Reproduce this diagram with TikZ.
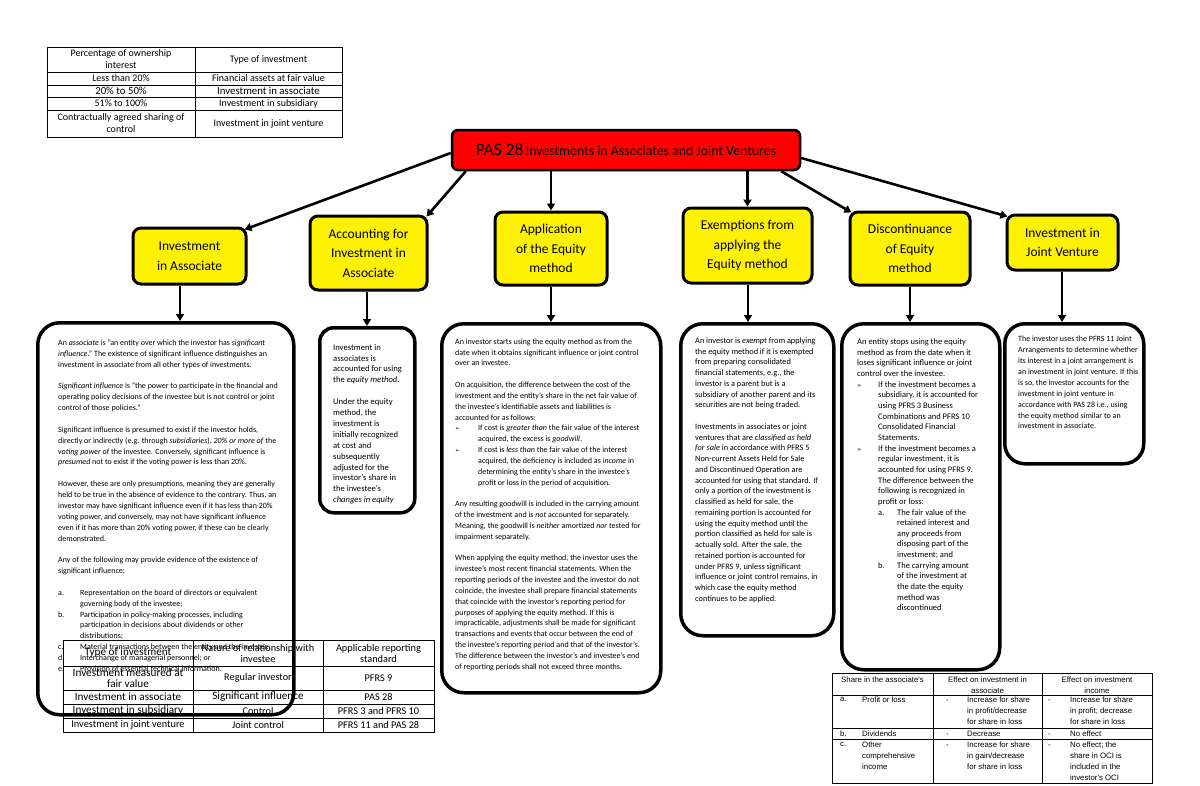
\documentclass[tikz,border=0pt]{standalone}
\usepackage{fontspec}
\setmainfont{Carlito}
\newfontfamily\djv{DejaVu Sans}
\newfontfamily\lib{Liberation Sans}
\usetikzlibrary{arrows.meta}
\newcommand{\bul}{\makebox[23pt][l]{\djv\fontsize{5.5}{5}\selectfont ➢}}
\newcommand{\dsh}{\vphantom{Ig}-}
\begin{document}
\begin{tikzpicture}[x=1pt,y=-1pt,
  arr/.style={line width=2.6pt,-{Triangle[length=7pt,width=8pt]}},
  ybox/.style={draw,line width=3pt,fill=yellow,rounded corners=8pt,align=center,font=\fontsize{13.5}{19.5}\selectfont,inner sep=0pt},
  tbox/.style={draw,line width=3.5pt,rounded corners=22pt,inner sep=0pt,anchor=north west},
  body/.style={anchor=north west,align=left,inner sep=0pt},
  grid/.style={line width=0.8pt},
  tcell/.style={inner sep=0pt,align=center,font=\fontsize{10}{12}\selectfont},
  bcell/.style={inner sep=0pt,align=center,font=\fontsize{10.3}{11}\selectfont},
  rcell/.style={inner sep=0pt,anchor=north west,align=left,font=\lib\fontsize{7.8}{10.9}\selectfont},
]
\useasboundingbox (0,0) rectangle (1200,785);
\fill[white] (0,0) rectangle (1200,785);

% ---------- top-left table ----------
\draw[grid] (47,47) rectangle (342,137);
\foreach \yy in {72,85,97,110} \draw[grid] (47,\yy) -- (342,\yy);
\draw[grid] (195,47) -- (195,137);
\node[tcell] (ta1) at (121,59.5) {Percentage of ownership\\interest};
\node[tcell] (ta2) at (268.5,59.5) {Type of investment};
\node[tcell] (tb1) at (121,78.5) {Less than 20\%};
\node[tcell] (tb2) at (268.5,78.5) {Financial assets at fair value};
\node[tcell,font=\fontsize{10.8}{12}\selectfont] (tc1) at (121,91) {20\% to 50\%};
\node[tcell,font=\fontsize{10.8}{12}\selectfont] (tc2) at (268.5,91) {Investment in associate};
\node[tcell] (td1) at (121,103.5) {51\% to 100\%};
\node[tcell] (td2) at (268.5,103.5) {Investment in subsidiary};
\node[tcell] (te1) at (121,123.5) {Contractually agreed sharing of\\control};
\node[tcell] (te2) at (268.5,123.5) {Investment in joint venture};

% ---------- title ----------
\node[draw,line width=2.5pt,fill=red,rounded corners=6pt,minimum width=348,minimum height=40,inner sep=0pt] (title) at (626,150)
  {{\fontsize{17.5}{20}\selectfont PAS 28} {\fontsize{13.8}{16}\selectfont Investments in Associates and Joint Ventures}};

% ---------- yellow boxes ----------
\node[ybox,minimum width=113,minimum height=56] (y1) at (189.5,256) {Investment\\in Associate};
\node[ybox,minimum width=117,minimum height=74] (y2) at (368.5,253) {Accounting for\\Investment in\\Associate};
\node[ybox,minimum width=112,minimum height=73] (y3) at (551,248.5) {Application\\of the Equity\\method};
\node[ybox,minimum width=129,minimum height=75] (y4) at (747.5,245.5) {Exemptions from\\applying the\\Equity method};
\node[ybox,minimum width=120,minimum height=73] (y5) at (910,248.5) {Discontinuance\\of Equity\\method};
\node[ybox,minimum width=111,minimum height=55] (y6) at (1062.5,242.5) {Investment in\\Joint Venture};

\draw[arr] ([yshift=-3pt]title.west) -- ([xshift=-3pt,yshift=-3pt]y1.north east);
\draw[arr] ([xshift=15pt]title.south west) -- ([xshift=-2pt,yshift=-2pt]y2.north east);
\draw[arr] (title.south -| y3.north) -- (y3.north);
\draw[arr] (title.south -| y4.north) -- (y4.north);
\draw[arr] ([xshift=-20pt]title.south east) -- ([xshift=3pt,yshift=-2pt]y5.north west);
\draw[arr] ([yshift=-8pt]title.east) -- ([xshift=2pt,yshift=-3pt]y6.north west);

% ---------- text boxes ----------
\node[tbox,minimum width=256,minimum height=392] (t1) at (36,321) {};
\node[tbox,rounded corners=14pt,minimum width=95,minimum height=185] (t2) at (318,326) {};
\node[tbox,minimum width=219,minimum height=369] (t3) at (440,322) {};
\node[tbox,minimum width=153,minimum height=312] (t4) at (679,322) {};
\node[tbox,minimum width=158,minimum height=346] (t5) at (840,322) {};
\node[tbox,rounded corners=20pt,minimum width=139,minimum height=140] (t6) at (1003,322) {};

\coordinate (a1) at (180,0);
\coordinate (a2) at (367,0);
\coordinate (a3) at (551,0);
\coordinate (a4) at (748,0);
\coordinate (a5) at (910,0);
\coordinate (a6) at (1062,0);
\draw[arr] (y1.south -| a1) -- (t1.north -| a1);
\draw[arr] (y2.south -| a2) -- (t2.north -| a2);
\draw[arr] (y3.south -| a3) -- (t3.north -| a3);
\draw[arr] (y4.south -| a4) -- (t4.north -| a4);
\draw[arr] (y5.south -| a5) -- (t5.north -| a5);
\draw[arr] (y6.south -| a6) -- (t6.north -| a6);

% TB1
\node[body,font=\fontsize{8}{10.87}\selectfont] (b1) at (58,339.5) {%
An \textit{associate} is "an entity over which the investor has \textit{significant}\\
\textit{influence}." The existence of significant influence distinguishes an\\
investment in associate from all other types of investments.\\[10.87pt]
\textit{Significant influence} is "the power to participate in the financial and\\
operating policy decisions of the investee but is not control or joint\\
control of those policies."\\[10.87pt]
Significant influence is presumed to exist if the investor holds,\\
directly or indirectly (e.g. through \textit{subsidiaries}), \textit{20\% or more of} the\\
\textit{voting power} of the investee. Conversely, significant influence is\\
\textit{presumed} not to exist if the voting power is less than 20\%.\\[10.87pt]
However, these are only presumptions, meaning they are generally\\
held to be true in the absence of evidence to the contrary. Thus, an\\
investor may have significant influence even if it has less than 20\%\\
voting power, and conversely, may not have significant influence\\
even if it has more than 20\% voting power, if these can be clearly\\
demonstrated.\\[10.87pt]
Any of the following may provide evidence of the existence of\\
significant influence:\\[10.87pt]
\makebox[22pt][l]{a.}Representation on the board of directors or equivalent\\
\hspace*{22pt}governing body of the investee;\\
\makebox[22pt][l]{b.}Participation in policy-making processes, including\\
\hspace*{22pt}participation in decisions about dividends or other\\
\hspace*{22pt}distributions;\\
\makebox[22pt][l]{c.}Material transactions between the entity and the investee;\\
\makebox[22pt][l]{d.}Interchange of managerial personnel; or\\
\makebox[22pt][l]{e.}Provision of essential technical information.};

% TB2
\node[body,font=\fontsize{8.6}{10.9}\selectfont] (b2) at (333,344) {%
Investment in\\
associates is\\
accounted for using\\
the \textit{equity method}.\\[10.9pt]
Under the equity\\
method, the\\
investment is\\
initially recognized\\
at cost and\\
subsequently\\
adjusted for the\\
investor's share in\\
the investee's\\
\textit{changes in equity}};

% TB3
\node[body,font=\fontsize{8}{10.83}\selectfont] (b3) at (455,338.5) {%
An investor starts using the equity method as from the\\
date when it obtains significant influence or joint control\\
over an investee.\\[10.83pt]
On acquisition, the difference between the cost of the\\
investment and the entity's share in the net fair value of\\
the investee's identifiable assets and liabilities is\\
accounted for as follows:\\
\bul If cost is \textit{greater than} the fair value of the interest\\
\hspace*{23pt}acquired, the excess is \textit{goodwill}.\\
\bul If cost is \textit{less than} the fair value of the interest\\
\hspace*{23pt}acquired, the deficiency is included as \textit{income} in\\
\hspace*{23pt}determining the entity's share in the investee's\\
\hspace*{23pt}profit or loss in the period of acquisition.\\[10.83pt]
Any resulting goodwill is included in the carrying amount\\
of the investment and is \textit{not} accounted for separately.\\
Meaning, the goodwill is \textit{neither} amortized \textit{nor} tested for\\
impairment separately.\\[10.83pt]
When applying the equity method, the investor uses the\\
investee's most recent financial statements. When the\\
reporting periods of the investee and the investor do not\\
coincide, the investee shall prepare financial statements\\
that coincide with the investor's reporting period for\\
purposes of applying the equity method. If this is\\
impracticable, adjustments shall be made for significant\\
transactions and events that occur between the end of\\
the investee's reporting period and that of the investor's.\\
The difference between the investor's and investee's end\\
of reporting periods shall not exceed three months.};

% TB4
\node[body,font=\fontsize{8.3}{10.75}\selectfont] (b4) at (695,337.5) {%
An investor is \textit{exempt} from applying\\
the equity method if it is exempted\\
from preparing consolidated\\
financial statements, e.g., the\\
investor is a parent but is a\\
subsidiary of another parent and its\\
securities are not being traded.\\[10.75pt]
Investments in associates or joint\\
ventures that are \textit{classified as held}\\
\textit{for sale} in accordance with PFRS 5\\
Non-current Assets Held for Sale\\
and Discontinued Operation are\\
accounted for using that standard. If\\
only a portion of the investment is\\
classified as held for sale, the\\
remaining portion is accounted for\\
using the equity method until the\\
portion classified as held for sale is\\
actually sold. After the sale, the\\
retained portion is accounted for\\
under PFRS 9, unless significant\\
influence or joint control remains, in\\
which case the equity method\\
continues to be applied.};

% TB5
\node[body,font=\fontsize{8.5}{10.65}\selectfont] (b5) at (857,338.5) {%
An entity stops using the equity\\
method as from the date when it\\
loses significant influence or joint\\
control over the investee.\\
\makebox[21pt][l]{\djv\fontsize{5.5}{5}\selectfont ➢}If the investment becomes a\\
\hspace*{21pt}subsidiary, it is accounted for\\
\hspace*{21pt}using PFRS 3 Business\\
\hspace*{21pt}Combinations and PFRS 10\\
\hspace*{21pt}Consolidated Financial\\
\hspace*{21pt}Statements.\\
\makebox[21pt][l]{\djv\fontsize{5.5}{5}\selectfont ➢}If the investment becomes a\\
\hspace*{21pt}regular investment, it is\\
\hspace*{21pt}accounted for using PFRS 9.\\
\hspace*{21pt}The difference between the\\
\hspace*{21pt}following is recognized in\\
\hspace*{21pt}profit or loss:\\
\hspace*{21pt}\makebox[19pt][l]{a.}The fair value of the\\
\hspace*{40pt}retained interest and\\
\hspace*{40pt}any proceeds from\\
\hspace*{40pt}disposing part of the\\
\hspace*{40pt}investment; and\\
\hspace*{21pt}\makebox[19pt][l]{b.}The carrying amount\\
\hspace*{40pt}of the investment at\\
\hspace*{40pt}the date the equity\\
\hspace*{40pt}method was\\
\hspace*{40pt}discontinued};

% TB6
\node[body,font=\fontsize{8}{10.9}\selectfont] (b6) at (1018,336) {%
The investor uses the PFRS 11 Joint\\
Arrangements to determine whether\\
its interest in a joint arrangement is\\
an investment in joint venture. If this\\
is so, the investor accounts for the\\
investment in joint venture in\\
accordance with PAS 28 i.e., using\\
the equity method similar to an\\
investment in associate.};

% ---------- bottom-left table ----------
\draw[grid] (63,640) rectangle (434,732);
\foreach \yy in {666,690,704,718} \draw[grid] (63,\yy) -- (434,\yy);
\draw[grid] (193,640) -- (193,732);
\draw[grid] (323,640) -- (323,732);
\node[bcell,font=\fontsize{11.2}{12}\selectfont] (la1) at (128,653) {Type of investment};
\node[bcell] (la2) at (258,653) {Nature of relationship with\\investee};
\node[bcell] (la3) at (378.5,653) {Applicable reporting\\standard};
\node[bcell,font=\fontsize{11.2}{11}\selectfont] (lb1) at (128,678) {Investment measured at\\fair value};
\node[bcell] (lb2) at (258,678) {Regular investor};
\node[bcell] (lb3) at (378.5,678) {PFRS 9};
\node[bcell,font=\fontsize{11.2}{12}\selectfont] (lc1) at (128,697) {Investment in associate};
\node[bcell,font=\fontsize{11.2}{12}\selectfont] (lc2) at (258,697) {Significant influence};
\node[bcell] (lc3) at (378.5,697) {PAS 28};
\node[bcell,font=\fontsize{11.2}{12}\selectfont] (ld1) at (128,711) {Investment in subsidiary};
\node[bcell] (ld2) at (258,711) {Control};
\node[bcell] (ld3) at (378.5,711) {PFRS 3 and PFRS 10};
\node[bcell] (le1) at (128,725) {Investment in joint venture};
\node[bcell] (le2) at (258,725) {Joint control};
\node[bcell] (le3) at (378.5,725) {PFRS 11 and PAS 28};

% ---------- bottom-right table ----------
\draw[grid] (832,673) rectangle (1152,783);
\foreach \yy in {695,728,739} \draw[grid] (832,\yy) -- (1152,\yy);
\draw[grid] (933,673) -- (933,783);
\draw[grid] (1042,673) -- (1042,783);
\node[rcell,anchor=north,align=center] (ra1) at (882.5,676.5) {Share in the associate's};
\node[rcell,anchor=north,align=center] (ra2) at (987.5,676.5) {Effect on investment in\\associate};
\node[rcell,anchor=north,align=center] (ra3) at (1097,676.5) {Effect on investment\\income};
\node[rcell] (rb0) at (840,697) {a.};
\node[rcell] (rb1) at (862,697) {Profit or loss};
\node[rcell] (rb2d) at (946,697) {\dsh};
\node[rcell] (rb2) at (967,697) {Increase for share\\in profit/decrease\\for share in loss};
\node[rcell] (rb3d) at (1048,697) {\dsh};
\node[rcell] (rb3) at (1070,697) {Increase for share\\in profit; decrease\\for share in loss};
\node[rcell] (rc0) at (840,731) {b.};
\node[rcell] (rc1) at (862,731) {Dividends};
\node[rcell] (rc2d) at (946,731) {\dsh};
\node[rcell] (rc2) at (967,731) {Decrease};
\node[rcell] (rc3d) at (1048,731) {\dsh};
\node[rcell] (rc3) at (1070,731) {No effect};
\node[rcell] (rd0) at (840,742) {c.};
\node[rcell] (rd1) at (862,742) {Other\\comprehensive\\income};
\node[rcell] (rd2d) at (946,742) {\dsh};
\node[rcell] (rd2) at (967,742) {Increase for share\\in gain/decrease\\for share in loss};
\node[rcell] (rd3d) at (1048,742) {\dsh};
\node[rcell] (rd3) at (1070,742) {No effect; the\\share in OCI is\\included in the\\investor's OCI};
\end{tikzpicture}
\end{document}
